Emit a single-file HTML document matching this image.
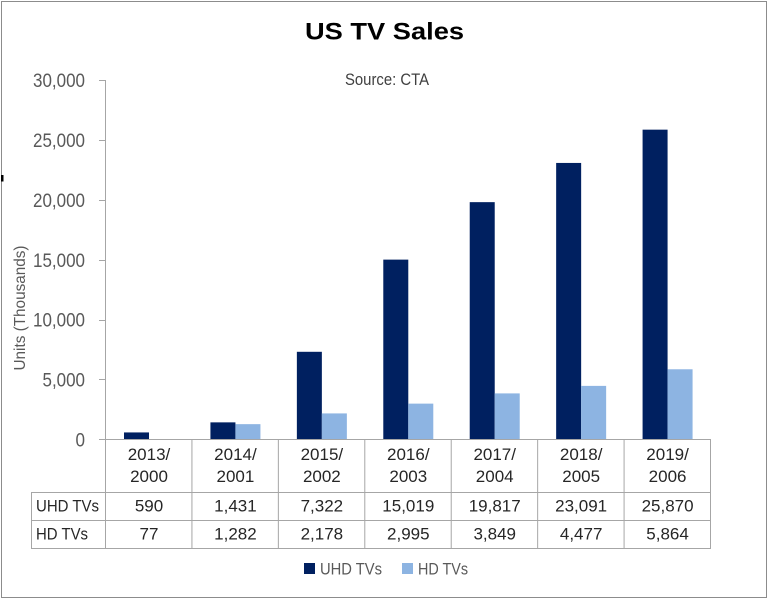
<!DOCTYPE html>
<html><head><meta charset="utf-8"><style>
html,body{margin:0;padding:0;background:#fff;}
svg{display:block;}
text{font-family:"Liberation Sans",Arial,sans-serif;}
</style></head><body>
<svg width="768" height="599" viewBox="0 0 768 599" xmlns="http://www.w3.org/2000/svg">
<rect x="0" y="0" width="768" height="599" fill="#fff"/>
<rect x="1.5" y="1.5" width="765" height="596" fill="none" stroke="#8c8c8c" stroke-width="1"/>
<rect x="1" y="175" width="2.5" height="6.5" fill="#000"/>
<text x="384.5" y="39.3" font-size="24" font-weight="bold" text-anchor="middle" fill="#000" textLength="159" lengthAdjust="spacingAndGlyphs">US TV Sales</text>
<text x="387" y="85" font-size="16.5" text-anchor="middle" fill="#404040" textLength="84" lengthAdjust="spacingAndGlyphs">Source: CTA</text>
<g fill="#595959" font-size="19" text-anchor="end">
<text x="85" y="87.2" textLength="52" lengthAdjust="spacingAndGlyphs">30,000</text>
<text x="85" y="147.1" textLength="52" lengthAdjust="spacingAndGlyphs">25,000</text>
<text x="85" y="206.9" textLength="52" lengthAdjust="spacingAndGlyphs">20,000</text>
<text x="85" y="266.8" textLength="52" lengthAdjust="spacingAndGlyphs">15,000</text>
<text x="85" y="326.7" textLength="52" lengthAdjust="spacingAndGlyphs">10,000</text>
<text x="85" y="386.6" textLength="42.5" lengthAdjust="spacingAndGlyphs">5,000</text>
<text x="85" y="446.5" textLength="9.5" lengthAdjust="spacingAndGlyphs">0</text>
</g>
<text transform="translate(25,308) rotate(-90)" x="0" y="0" font-size="15.5" text-anchor="middle" fill="#595959" textLength="125" lengthAdjust="spacingAndGlyphs">Units (Thousands)</text>
<g stroke="#a6a6a6" stroke-width="1">
<line x1="105.5" y1="80" x2="105.5" y2="549"/>
<line x1="99" y1="80.5" x2="105.5" y2="80.5"/>
<line x1="99" y1="140.5" x2="105.5" y2="140.5"/>
<line x1="99" y1="200.5" x2="105.5" y2="200.5"/>
<line x1="99" y1="260.5" x2="105.5" y2="260.5"/>
<line x1="99" y1="320.5" x2="105.5" y2="320.5"/>
<line x1="99" y1="379.5" x2="105.5" y2="379.5"/>
</g>
<g fill="#002060">
<rect x="124" y="432.43" width="25" height="7.07"/>
<rect x="210.43" y="422.36" width="25" height="17.14"/>
<rect x="296.86" y="351.8" width="25" height="87.7"/>
<rect x="383.29" y="259.62" width="25" height="179.88"/>
<rect x="469.72" y="202.15" width="25" height="237.35"/>
<rect x="556.15" y="162.94" width="25" height="276.56"/>
<rect x="642.58" y="129.66" width="25" height="309.84"/>
</g>
<g fill="#8db4e2">
<rect x="235.43" y="424.15" width="25" height="15.35"/>
<rect x="321.86" y="413.41" width="25" height="26.09"/>
<rect x="408.29" y="403.63" width="25" height="35.87"/>
<rect x="494.72" y="393.4" width="25" height="46.1"/>
<rect x="581.15" y="385.88" width="25" height="53.62"/>
<rect x="667.58" y="369.27" width="25" height="70.23"/>
</g>
<g stroke="#a6a6a6" stroke-width="1">
<line x1="99" y1="439.5" x2="711" y2="439.5"/>
<line x1="31.5" y1="492.5" x2="711" y2="492.5"/>
<line x1="31.5" y1="520.5" x2="711" y2="520.5"/>
<line x1="31.5" y1="548.5" x2="711" y2="548.5"/>
<line x1="31.5" y1="492" x2="31.5" y2="549"/>
<line x1="191.93" y1="439" x2="191.93" y2="549"/>
<line x1="278.36" y1="439" x2="278.36" y2="549"/>
<line x1="364.79" y1="439" x2="364.79" y2="549"/>
<line x1="451.22" y1="439" x2="451.22" y2="549"/>
<line x1="537.65" y1="439" x2="537.65" y2="549"/>
<line x1="624.08" y1="439" x2="624.08" y2="549"/>
<line x1="710.5" y1="439" x2="710.5" y2="549"/>
</g>
<g fill="#262626" font-size="17" text-anchor="middle">
<text x="149" y="460">2013/</text><text x="149" y="482">2000</text>
<text x="235.43" y="460">2014/</text><text x="235.43" y="482">2001</text>
<text x="321.86" y="460">2015/</text><text x="321.86" y="482">2002</text>
<text x="408.29" y="460">2016/</text><text x="408.29" y="482">2003</text>
<text x="494.72" y="460">2017/</text><text x="494.72" y="482">2004</text>
<text x="581.15" y="460">2018/</text><text x="581.15" y="482">2005</text>
<text x="667.58" y="460">2019/</text><text x="667.58" y="482">2006</text>
<text x="149" y="511.5">590</text>
<text x="235.43" y="511.5">1,431</text>
<text x="321.86" y="511.5">7,322</text>
<text x="408.29" y="511.5">15,019</text>
<text x="494.72" y="511.5">19,817</text>
<text x="581.15" y="511.5">23,091</text>
<text x="667.58" y="511.5">25,870</text>
<text x="149" y="539.5">77</text>
<text x="235.43" y="539.5">1,282</text>
<text x="321.86" y="539.5">2,178</text>
<text x="408.29" y="539.5">2,995</text>
<text x="494.72" y="539.5">3,849</text>
<text x="581.15" y="539.5">4,477</text>
<text x="667.58" y="539.5">5,864</text>
</g>
<g fill="#262626" font-size="17">
<text x="36" y="511.5" textLength="63" lengthAdjust="spacingAndGlyphs">UHD TVs</text>
<text x="36" y="539.5" textLength="52" lengthAdjust="spacingAndGlyphs">HD TVs</text>
</g>
<rect x="304" y="563" width="11" height="11" fill="#002060"/>
<rect x="402" y="563" width="11" height="11" fill="#8db4e2"/>
<g fill="#595959" font-size="17">
<text x="320" y="574.5" textLength="62" lengthAdjust="spacingAndGlyphs">UHD TVs</text>
<text x="418" y="574.5" textLength="50" lengthAdjust="spacingAndGlyphs">HD TVs</text>
</g>
</svg>
</body></html>
